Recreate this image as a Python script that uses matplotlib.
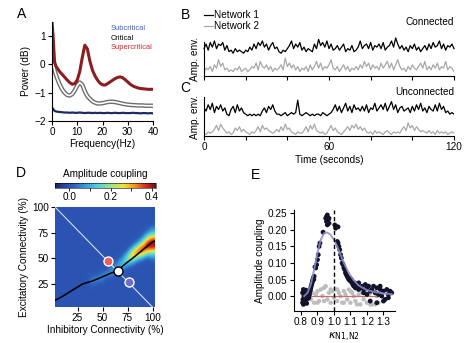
import numpy as np
import matplotlib
matplotlib.use("Agg")
import matplotlib.pyplot as plt
from matplotlib.colors import LinearSegmentedColormap

plt.rcParams['font.family'] = ['Liberation Sans', 'DejaVu Sans']
plt.rcParams['mathtext.fontset'] = 'dejavusans'

# ---- A: power spectra ----
freq = [0, 0.5, 1, 1.5, 2, 3, 4, 5, 6, 7, 8, 9, 10, 11, 12, 13, 14, 15, 16, 17, 18, 19, 20,
        21, 22, 23, 24, 25, 26, 27, 28, 29, 30, 31, 32, 33, 34, 35, 36, 37, 38, 39, 40]
pow_super = [1.5, 0.9, 0.1, -0.05, -0.12, -0.25, -0.35, -0.45, -0.55, -0.64, -0.70, -0.68, -0.55,
             -0.25, 0.25, 0.68, 0.55, 0.12, -0.2, -0.4, -0.55, -0.66, -0.72, -0.73, -0.68, -0.62,
             -0.56, -0.5, -0.46, -0.44, -0.47, -0.54, -0.62, -0.7, -0.76, -0.8, -0.83, -0.85,
             -0.86, -0.87, -0.88, -0.88, -0.88]
pow_crit = [0.05, 0.0, -0.2, -0.35, -0.48, -0.7, -0.88, -1.0, -1.08, -1.1, -1.05, -0.92, -0.75,
            -0.64, -0.72, -0.95, -1.12, -1.22, -1.3, -1.35, -1.38, -1.38, -1.37, -1.35, -1.33,
            -1.32, -1.32, -1.33, -1.35, -1.37, -1.39, -1.41, -1.42, -1.43, -1.44, -1.44, -1.45,
            -1.45, -1.45, -1.46, -1.46, -1.46, -1.46]
pow_sub = [-1.52, -1.58, -1.64, -1.66, -1.67, -1.68, -1.69, -1.70, -1.70, -1.71, -1.70, -1.71,
           -1.71, -1.70, -1.71, -1.72, -1.71, -1.71, -1.72, -1.71, -1.72, -1.71, -1.72, -1.72,
           -1.71, -1.72, -1.72, -1.71, -1.72, -1.72, -1.71, -1.72, -1.72, -1.72, -1.71, -1.72,
           -1.72, -1.73, -1.72, -1.72, -1.73, -1.72, -1.73]

# ---- B/C: amplitude envelopes, one value per second ----
t_sec = list(range(121))
conn_net1 = [3, 6, 2, 7, 4, 8, 3, 6, 5, 7, 2, 5,
             1, 2, 0, 3, 1, 2, 1, 0, 2, 1,
             4, 2, 6, 3, 7, 5, 8, 4, 6, 2, 5, 7, 3, 4,
             1, 0, 2, 1, 3,
             5, 8, 3, 6, 4, 7,
             2, 4, 1, 3, 2, 1,
             6, 3, 9, 5, 7, 4, 8, 3, 6, 2,
             3, 5, 2, 4, 6, 1, 3, 2, 5, 1, 2,
             4, 8, 3, 5,
             6, 3, 7, 2, 5, 4, 6, 3, 7, 2, 4,
             5, 8, 4, 10, 6, 3, 5,
             2, 4, 1, 5, 3, 6, 2, 4, 1, 3, 5, 2,
             6, 3, 7, 4, 5, 8, 3, 6, 2, 5, 4, 6, 3]
conn_net2 = [1, 3, 2, 4, 1, 5, 3, 8, 4, 6, 2, 3,
             1, 2, 1, 3, 2, 4, 1, 2, 3, 1,
             2, 4, 3, 6, 2, 7, 4, 3, 5, 2, 4, 1, 3, 2,
             3, 5, 2, 9, 4,
             6, 3, 5, 2, 4, 1,
             3, 2, 4, 1, 5, 2,
             4, 7, 3, 6, 2, 4, 3, 5, 8, 3,
             2, 4, 1, 3, 5, 2, 4, 1, 3, 2, 4,
             2, 5, 3, 7,
             4, 6, 2, 5, 3, 4, 2, 6, 3, 5, 7,
             3, 6, 2, 5, 8, 4, 2,
             3, 1, 4, 2, 5, 3, 2, 4, 6, 3, 7, 2,
             4, 2, 5, 3, 6, 2, 4, 3, 7, 2, 4, 3, 1]
unconn_net1 = [5, 3, 7, 4, 8, 2, 6, 4, 7, 3, 5,
               1, 0,
               4, 6, 2, 7, 3, 5, 2, 1,
               0, 1, 0, 1, 0, 1, 0,
               3, 5, 2, 6, 4, 7, 3, 1,
               1, 0, 1, 2, 0, 1, 2, 1, 2,
               10,
               1, 0, 1, 2, 1, 0, 1, 0, 1, 1, 0, 2, 1, 0, 1, 2,
               4, 7, 3, 6, 2, 5, 8, 3, 6, 2, 7, 4, 5, 3,
               6, 3, 7, 2, 5, 4, 8, 3, 5,
               7, 4, 8, 3, 6, 9, 4, 7, 2, 5, 6, 3, 4,
               5, 2, 6, 3, 7, 4, 8, 3, 5, 2, 6, 4, 3,
               7, 3, 8, 4, 6, 2, 3, 1, 2, 1]
unconn_net2 = [1, 0, 2, 1, 2,
               4, 7, 3, 8, 5, 3,
               1, 2, 0, 1,
               5, 3, 6, 2, 4, 2,
               1, 0, 2, 1,
               3, 6, 2, 7, 4, 5, 3, 2,
               1, 2,
               4, 2, 6, 3, 8, 4, 5, 2,
               1, 0, 2, 1, 1,
               3, 6, 2, 7, 4, 8, 3, 2,
               1, 2, 0, 1,
               4, 7, 3, 5, 2, 1,
               0, 2,
               4, 6, 3, 7, 5, 8, 4, 6, 3, 5, 2,
               1, 2, 0, 3, 1, 2, 1, 0, 2, 3, 1, 0, 2, 1, 2, 1,
               4, 6, 3, 9, 5, 7, 3, 6, 4, 2, 3,
               2, 1, 3, 1, 2, 0, 3, 1, 2, 1, 2, 0, 1, 2, 1]

# ---- D: amplitude coupling over connectivity grid (5 % steps) ----
grid_pct = np.arange(0, 101, 5)
coupling_bg = 0.0
ridge_inh = [40, 40, 45, 50, 50, 55, 60, 60, 65, 65, 70, 70, 70, 75, 75, 75,
             80, 80, 80, 80, 85, 85, 85, 85, 90, 90, 90, 90, 90,
             95, 95, 95, 95, 95, 100, 100, 100, 100, 100, 100, 100]
ridge_exc = [25, 30, 30, 30, 35, 35, 35, 40, 40, 45, 40, 45, 50, 45, 50, 55,
             45, 50, 55, 60, 50, 55, 60, 65, 50, 55, 60, 65, 70,
             55, 60, 65, 70, 75, 50, 55, 60, 65, 70, 75, 80]
ridge_amp = [0.04, 0.06, 0.07, 0.07, 0.05, 0.08, 0.07, 0.09, 0.11, 0.06, 0.07, 0.15, 0.06,
             0.12, 0.22, 0.07, 0.06, 0.25, 0.32, 0.08, 0.13, 0.37, 0.28, 0.06,
             0.07, 0.30, 0.41, 0.20, 0.05, 0.17, 0.38, 0.42, 0.22, 0.06,
             0.06, 0.17, 0.36, 0.43, 0.32, 0.13, 0.05]
crit_inh = [2.5, 10, 20, 30, 40, 50, 57, 65, 72, 80, 90, 100, 102.5]
crit_exc = [9, 13, 19, 25, 28, 32, 35, 38, 44, 50, 58, 66, 67]
diag_inh = [2.5, 102.5]
diag_exc = [100, 0]
pts_inh = [55, 65, 76]
pts_exc = [47.5, 37.5, 26.5]
pts_face = ['#f25c5c', 'white', '#6f6cc9']
pts_edge = ['white', 'black', 'white']

# ---- E: coupling vs kappa ----
k_net = [0.81, 0.81, 0.812, 0.815, 0.815, 0.818, 0.82, 0.82, 0.822, 0.825, 0.825, 0.828,
         0.83, 0.83, 0.832, 0.835, 0.835, 0.838, 0.84, 0.84, 0.842, 0.845, 0.848, 0.85,
         0.852, 0.855, 0.858, 0.86, 0.862, 0.865, 0.868, 0.87, 0.872, 0.875, 0.878, 0.88,
         0.885, 0.89, 0.895, 0.9, 0.905, 0.91, 0.915, 0.934, 0.95, 0.955, 0.955, 0.96,
         0.965, 0.97, 0.97, 0.96, 1.005, 1.01, 1.015, 1.025, 1.02, 1.025, 1.03, 1.035,
         1.04, 1.045, 1.05, 1.055, 1.06, 1.065, 1.07, 1.075, 1.08, 1.085, 1.09, 1.095,
         1.1, 1.105, 1.11, 1.115, 1.12, 1.125, 1.13, 1.14, 1.15, 1.16, 1.17, 1.18, 1.19,
         1.2, 1.21, 1.22, 1.23, 1.24, 1.25, 1.26, 1.27, 1.28, 1.29, 1.3, 1.31, 1.32, 1.33,
         1.34, 1.35, 1.22, 1.26, 1.3, 1.28, 1.2, 1.15, 1.33, 1.18]
amp_net = [-0.02, 0.01, -0.01, 0.02, -0.025, 0.0, 0.015, -0.015, 0.005, -0.02, 0.012, -0.005,
           0.018, -0.01, 0.0, 0.01, -0.022, 0.005, -0.008, 0.015, 0.0, 0.008, -0.005, 0.012,
           0.005, 0.015, 0.02, 0.025, 0.03, 0.035, 0.04, 0.045, 0.05, 0.055, 0.05, 0.06,
           0.088, 0.085, 0.095, 0.11, 0.125, 0.15, 0.16, 0.193, 0.235, 0.24, 0.225, 0.245,
           0.23, 0.235, 0.22, 0.215, 0.215, 0.205, 0.21, 0.209, 0.165, 0.16, 0.15, 0.14,
           0.125, 0.115, 0.1, 0.095, 0.085, 0.08, 0.07, 0.065, 0.06, 0.055, 0.05, 0.055,
           0.045, 0.05, 0.04, 0.035, 0.03, 0.04, 0.025, 0.03, 0.02, 0.025, 0.03, 0.02, 0.035,
           0.025, 0.03, 0.015, 0.02, 0.03, 0.01, 0.025, 0.005, 0.02, 0.0, 0.015, -0.01, 0.02,
           0.005, 0.015, 0.01, -0.015, -0.02, -0.015, 0.03, 0.005, 0.04, -0.005, 0.01]
k_ctrl = [0.86, 0.87, 0.88, 0.89, 0.9, 0.91, 0.92, 0.93, 0.94, 0.95, 0.96, 0.97, 0.98,
          0.99, 1.0, 1.01, 1.02, 1.03, 1.04, 1.05, 1.06, 1.07, 1.08, 1.09, 1.1, 1.11, 1.12,
          1.13, 1.14, 1.15, 1.16, 1.17, 1.18, 1.19, 1.2, 1.21, 1.22, 1.23, 1.25, 1.27,
          0.9, 0.94, 0.98, 1.02, 1.06, 1.1, 1.14, 1.18, 1.22, 1.26]
amp_ctrl = [-0.01, 0.01, -0.02, 0.005, 0.015, -0.015, 0.02, 0.0, 0.025, 0.03, -0.01, 0.01,
            -0.02, 0.015, -0.005, 0.02, -0.015, 0.01, 0.0, -0.02, 0.015, 0.005, -0.01, 0.02,
            -0.02, 0.01, 0.0, -0.015, 0.02, 0.005, -0.025, 0.01, -0.01, 0.015, -0.02, 0.005,
            0.01, -0.025, -0.025, -0.02, -0.02, -0.015, 0.02, 0.02, -0.02, 0.015, -0.025,
            0.015, -0.025, 0.0]
fit_k = [0.82, 0.84, 0.86, 0.88, 0.90, 0.92, 0.94, 0.96, 0.98, 1.00, 1.02, 1.04, 1.06,
         1.08, 1.10, 1.12, 1.15, 1.20, 1.25, 1.30, 1.35]
fit_amp = [0.0, 0.01, 0.035, 0.08, 0.13, 0.17, 0.19, 0.192, 0.185, 0.17, 0.15, 0.125, 0.1,
           0.08, 0.062, 0.048, 0.032, 0.018, 0.012, 0.008, 0.006]
ctrl_fit_k = [0.84, 1.28]
ctrl_fit_amp = [0.0, 0.0]

W, H = 474, 343
fig = plt.figure(figsize=(W / 100, H / 100), dpi=100)


def px_axes(x0, y0, x1, y1):
    return fig.add_axes([x0 / W, 1 - y1 / H, (x1 - x0) / W, (y1 - y0) / H])


fs = 7.2


def clean(ax):
    ax.spines['top'].set_visible(False)
    ax.spines['right'].set_visible(False)
    ax.tick_params(direction='out', length=3, width=0.8, labelsize=fs, pad=1.5)


# A
ax = px_axes(52, 22, 153, 121)
clean(ax)
ax.plot(freq, pow_sub, color='#1e2a66', lw=1.6)
ax.plot(freq, pow_crit, color='#6e6e6e', lw=3.2)
ax.plot(freq, pow_crit, color='white', lw=1.2)
ax.plot(freq, pow_super, color='#8c1c1f', lw=2.2)
ax.set_xlim(0, 40)
ax.set_ylim(-2, 1.5)
ax.set_xticks([0, 10, 20, 30, 40])
ax.set_yticks([-2, -1, 0, 1])
ax.set_xlabel('Frequency(Hz)', fontsize=fs, labelpad=1)
ax.set_ylabel('Power (dB)', fontsize=fs, labelpad=2)
ax.text(0.58, 0.93, 'Subcritical', color='#4a5fa8', fontsize=5.4, transform=ax.transAxes, va='center')
ax.text(0.58, 0.835, 'Critical', color='black', fontsize=5.4, transform=ax.transAxes, va='center')
ax.text(0.58, 0.74, 'Supercritical', color='#c8282e', fontsize=5.4, transform=ax.transAxes, va='center')

# B
axb = px_axes(204, 42, 454, 76)
clean(axb)
axb.plot(t_sec, [6.7 + 0.45 * v for v in conn_net1], color='black', lw=0.9, label='Network 1', clip_on=False)
axb.plot(t_sec, [0.8 + 0.5 * v for v in conn_net2], color='#a8a8a8', lw=0.9, label='Network 2')
axb.set_xlim(0, 120)
axb.set_ylim(0, 10)
axb.set_xticks(range(0, 121, 20))
axb.set_xticklabels([])
axb.set_yticks([])
axb.set_ylabel('Amp. env.', fontsize=fs, labelpad=3)
axb.text(1.0, 1.58, 'Connected', fontsize=fs, ha='right', va='center', transform=axb.transAxes)
axb.legend(loc='upper left', bbox_to_anchor=(0.0, 1.93), frameon=False, fontsize=fs,
           handlelength=0.9, handletextpad=0.15, labelspacing=0.1, borderpad=0, borderaxespad=0)

# C
axc = px_axes(204, 97, 454, 136)
clean(axc)
axc.plot(t_sec, [5.2 + 0.4 * v for v in unconn_net1], color='black', lw=0.9)
axc.plot(t_sec, [0.4 + 0.33 * v for v in unconn_net2], color='#a8a8a8', lw=0.9)
axc.set_xlim(0, 120)
axc.set_ylim(0, 10)
axc.set_xticks(range(0, 121, 20))
axc.set_xticklabels(['0', '', '', '60', '', '', '120'])
axc.set_yticks([])
axc.set_ylabel('Amp. env.', fontsize=fs, labelpad=3)
axc.set_xlabel('Time (seconds)', fontsize=fs, labelpad=2)
axc.text(1.0, 1.12, 'Unconnected', fontsize=fs, ha='right', va='center', transform=axc.transAxes)

# D
grid = np.full((len(grid_pct), len(grid_pct)), coupling_bg)
for xi, yi, a in zip(ridge_inh, ridge_exc, ridge_amp):
    grid[yi // 5, xi // 5] = a
cmap = LinearSegmentedColormap.from_list('coupling', [
    (0.0, '#1c1f6b'), (0.12, '#2a4fb0'), (0.18, '#2e5cb8'), (0.3, '#3a9ad8'),
    (0.42, '#4fd0e0'), (0.55, '#a0e08a'), (0.68, '#f0e23a'), (0.8, '#f08a22'),
    (0.9, '#d8281e'), (1.0, '#6e0f12')])
axd = px_axes(55, 207, 155, 307)
im = axd.imshow(grid, origin='lower', extent=(-2.5, 102.5, -2.5, 102.5), cmap=cmap,
                vmin=-0.07, vmax=0.42, interpolation='bicubic', aspect='auto')
axd.plot(diag_inh, diag_exc, color='white', lw=0.8, alpha=0.8)
axd.plot(crit_inh, crit_exc, color='black', lw=1.1)
for xi, yi, fc, ec in zip(pts_inh, pts_exc, pts_face, pts_edge):
    axd.plot(xi, yi, 'o', ms=6.5, mfc=fc, mec=ec, mew=1.0)
axd.set_xlim(2.5, 102.5)
axd.set_ylim(2.6, 100)
axd.set_xticks([25, 50, 75, 100])
axd.set_yticks([25, 50, 75, 100])
axd.tick_params(direction='out', length=3, width=0.8, labelsize=fs, pad=1.5)
for s in axd.spines.values():
    s.set_visible(False)
axd.set_xlabel('Inhibitory Connectivity (%)', fontsize=fs, labelpad=1)
axd.set_ylabel('Excitatory Connectivity (%)', fontsize=fs, labelpad=2)

cax = px_axes(55, 183, 156, 188)
cb = fig.colorbar(im, cax=cax, orientation='horizontal', ticks=[0, 0.2, 0.4])
cb.ax.set_xticklabels(['0.0', '0.2', '0.4'])
cb.ax.xaxis.set_minor_locator(matplotlib.ticker.FixedLocator([0.1, 0.3]))
cb.ax.tick_params(which='both', labelsize=fs, length=2, width=0.6, pad=1)
cb.outline.set_linewidth(0.4)
cb.ax.set_title('Amplitude coupling', fontsize=fs, pad=4)

# E
axe = px_axes(294, 210, 395, 311)
clean(axe)
axe.scatter(k_ctrl, amp_ctrl, s=10, color='#bdbdbd', edgecolors='none', zorder=2)
axe.plot(ctrl_fit_k, ctrl_fit_amp, color='#c87070', lw=0.9, zorder=3)
axe.scatter(k_net, amp_net, s=12, color='#12122a', edgecolors='none', zorder=4)
axe.plot(fit_k, fit_amp, color='#8a8ad0', lw=1.4, alpha=0.85, zorder=5)
axe.axvline(1.0, color='black', lw=1.0, ls=(0, (3, 2)), zorder=6)
axe.set_xlim(0.758, 1.37)
axe.set_ylim(-0.045, 0.26)
axe.set_xticks([0.8, 0.9, 1.0, 1.1, 1.2, 1.3])
axe.set_xticklabels(['0.8', '0.9', '1.0', '1.1', '1.2', '1.3'])
axe.set_yticks([0, 0.05, 0.1, 0.15, 0.2, 0.25])
axe.set_yticklabels(['0.00', '0.05', '0.10', '0.15', '0.20', '0.25'])
axe.tick_params(axis='x', pad=1)
axe.set_xlabel(r'$\kappa_{\mathrm{N1,\!N2}}$', fontsize=8, labelpad=3)
axe.set_ylabel('Amplitude coupling', fontsize=fs, labelpad=2)

# panel letters
for letter, x, y in [('A', 22, 14), ('B', 185, 15), ('C', 185, 88), ('D', 21, 173), ('E', 255, 175)]:
    fig.text(x / W, 1 - y / H, letter, fontsize=10, ha='center', va='center')

fig.savefig('out.png', dpi=100)
